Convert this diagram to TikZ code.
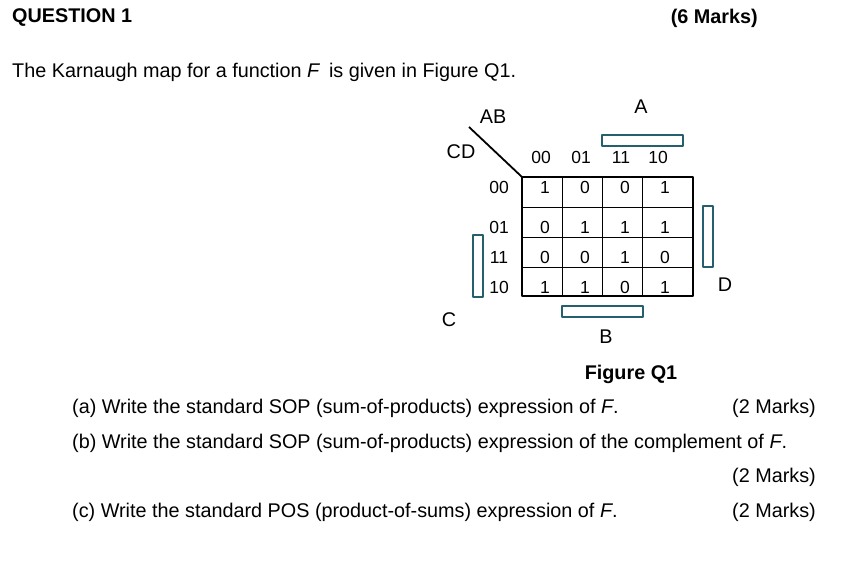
\documentclass[tikz,border=0pt]{standalone}
\usepackage{fontspec}
\setmainfont{Liberation Sans}
\definecolor{bar}{RGB}{38,96,110}
\tikzset{
  txt/.style={inner sep=0pt, font=\fontsize{19.8}{23}\selectfont},
  cell/.style={inner sep=0pt, font=\fontsize{17.5}{21}\selectfont},
  grp/.style={draw=bar, line width=2.4pt}
}
\begin{document}
\begin{tikzpicture}[x=1pt, y=-1pt, line join=round]
  \useasboundingbox (0,0) rectangle (868,560);
  % heading and question
  \node[txt, anchor=west, font=\bfseries\fontsize{19.8}{23}\selectfont] (q) at (12,18) {QUESTION 1};
  \node[txt, anchor=east, font=\bfseries\fontsize{19.8}{23}\selectfont] (mk) at (758,18) {(6 Marks)};
  \node[txt, anchor=west] (intro) at (12,72) {The Karnaugh map for a function \textit{F}\, is given in Figure Q1.};

  % map grid
  \draw[line width=1.8pt] (522,177) rectangle (693,296);
  \draw (562,177) -- (562,296) (602,177) -- (602,296) (642,177) -- (642,296);
  \draw (522,207) -- (693,207) (522,237) -- (693,237) (522,267) -- (693,267);
  \draw[line width=1.8pt] (469,127) -- (522,177);
  \node[txt] (ab) at (493,117) {AB};
  \node[txt] (cd) at (461,152) {CD};

  % column and row labels
  \foreach \lab/\x [count=\i] in {00/541, 01/581, 11/621, 10/658}
    \node[cell] (col\i) at (\x,157) {\lab};
  \foreach \lab/\y [count=\j] in {00/187, 01/227, 11/257, 10/287}
    \node[cell] (row\j) at (499,\y) {\lab};

  % cell values
  \foreach \y/\vals [count=\j] in {187/{1,0,0,1}, 227/{0,1,1,1}, 257/{0,0,1,0}, 287/{1,1,0,1}}
    \foreach \v [count=\i] in \vals {
      \pgfmathsetmacro{\xx}{{545,585,625,665}[\i-1]}
      \node[cell] (c\j\i) at (\xx,\y) {\v};
    }

  % variable bars
  \draw[grp] (602,135) rectangle (683,146);
  \node[txt] (va) at (641,107) {A};
  \draw[grp] (703,206) rectangle (713,267);
  \node[txt] (vd) at (725,285) {D};
  \draw[grp] (473,235) rectangle (483,297);
  \node[txt] (vc) at (449,320) {C};
  \draw[grp] (562,306) rectangle (643,317);
  \node[txt] (vb) at (606,337) {B};

  \node[txt, font=\bfseries\fontsize{19.8}{23}\selectfont] (fig) at (631,374) {Figure Q1};

  % parts
  \node[txt, anchor=west] (pa) at (72,408) {(a) Write the standard SOP (sum-of-products) expression of \textit{F}.};
  \node[txt, anchor=east] (ma) at (816,408) {(2 Marks)};
  \node[txt, anchor=west] (pb) at (72,443) {(b) Write the standard SOP (sum-of-products) expression of the complement of \textit{F}.};
  \node[txt, anchor=east] (mb) at (816,477) {(2 Marks)};
  \node[txt, anchor=west] (pc) at (72,512) {(c) Write the standard POS (product-of-sums) expression of \textit{F}.};
  \node[txt, anchor=east] (mc) at (816,512) {(2 Marks)};
\end{tikzpicture}
\end{document}
